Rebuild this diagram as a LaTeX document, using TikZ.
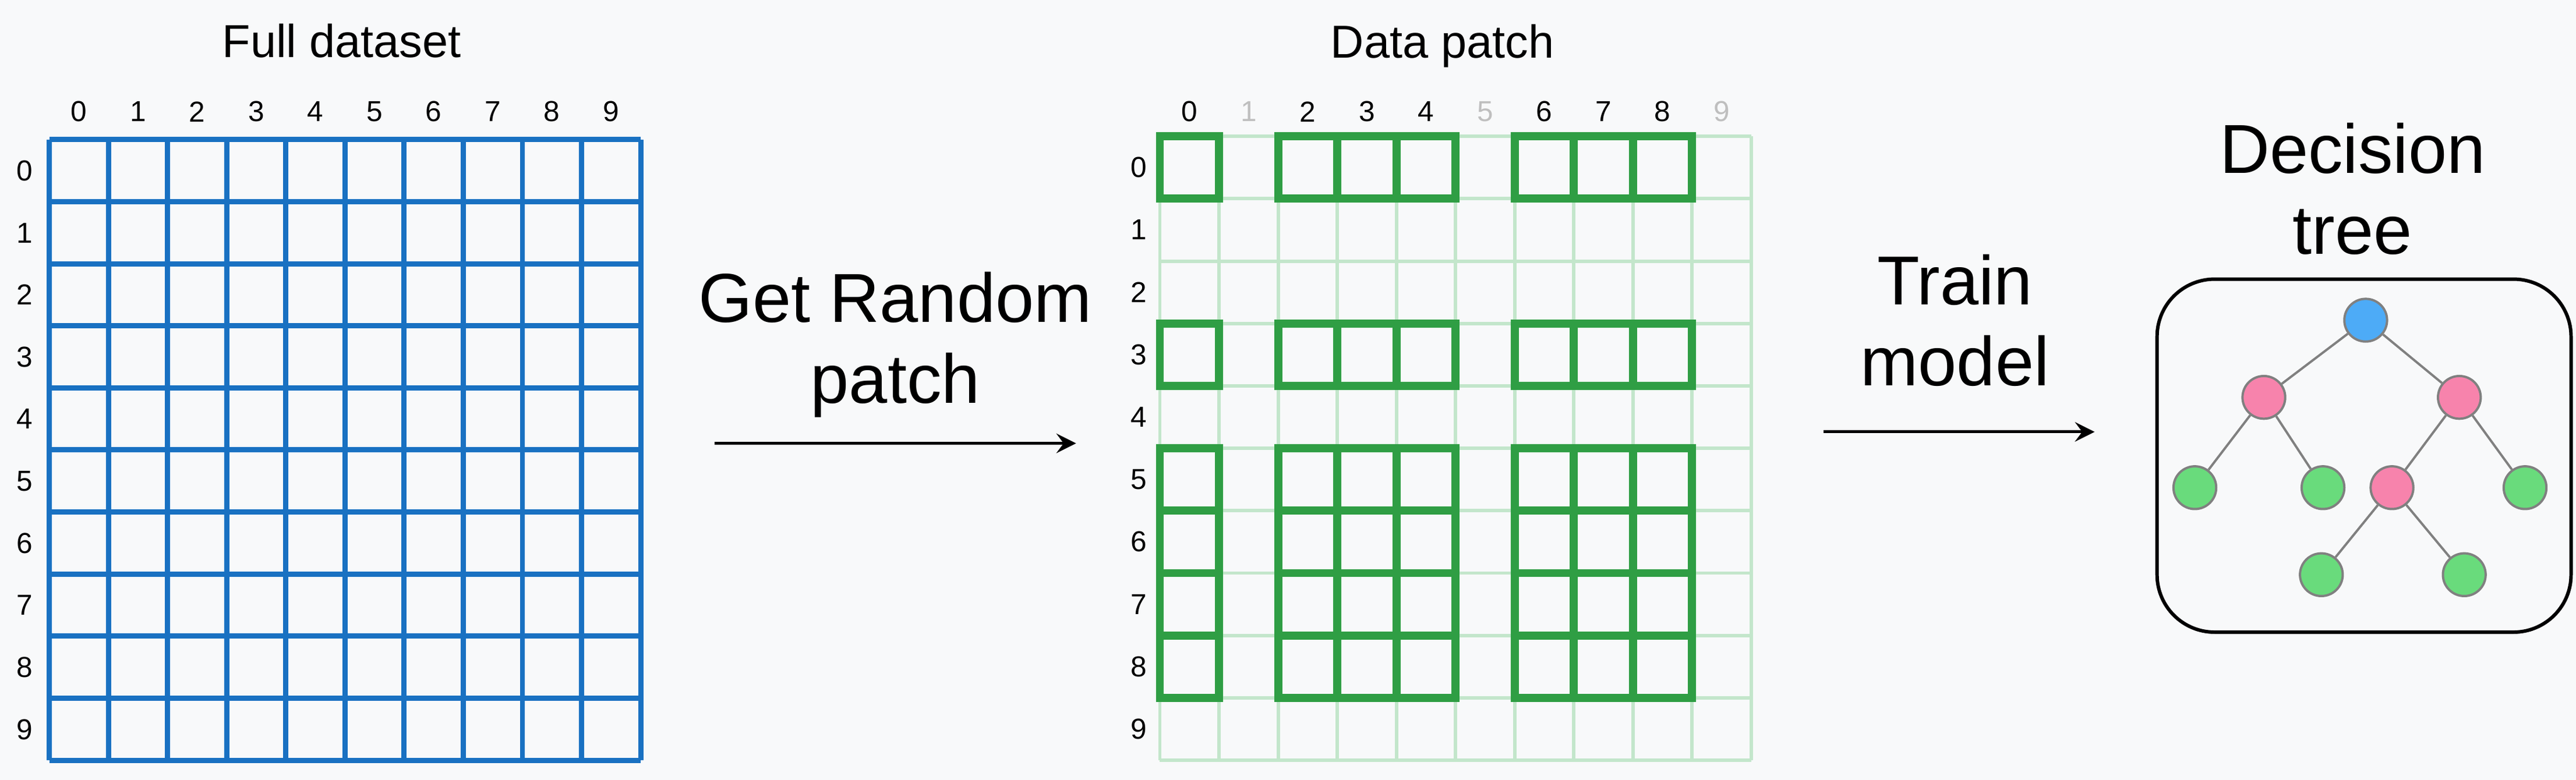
\documentclass[tikz,border=0pt]{standalone}
\usepackage{fontspec}
\setmainfont{Liberation Sans}
\definecolor{bg}{HTML}{F8F9FA}
\definecolor{gblue}{HTML}{1971C2}
\definecolor{ggreen}{HTML}{2F9E44}
\definecolor{lgreen}{HTML}{C3E6CB}
\definecolor{tblue}{HTML}{4DABF7}
\definecolor{tpink}{HTML}{F783AC}
\definecolor{tgreen}{HTML}{69DB7C}
\begin{document}
\begin{tikzpicture}[x=0.01cm,y=-0.01cm,
  lbl/.style={font=\fontsize{5}{6}\selectfont},
  ttl/.style={font=\fontsize{8}{9}\selectfont},
  big/.style={font=\fontsize{12}{14}\selectfont,align=center},
  arr/.style={-stealth,line width=0.5pt},
  tn/.style={circle,draw=gray,line width=0.4pt,minimum size=0.26cm,inner sep=0},
  te/.style={gray,line width=0.4pt}]
\fill[bg] (0,0) rectangle (1568,475);
\useasboundingbox (0,0) rectangle (1568,475);
% left grid
\node[ttl] (t1) at (208,25) {Full dataset};
\foreach \i in {0,...,9}{
  \node[lbl] (lc\i) at (48+36*\i,68) {\i};
  \node[lbl] (lr\i) at (15,104+37.8*\i) {\i};
}
\foreach \i in {0,...,10}{
  \draw[gblue,line width=0.9pt] (30+36*\i,85) -- (30+36*\i,463);
  \draw[gblue,line width=0.9pt] (30,85+37.8*\i) -- (390,85+37.8*\i);
}
% middle grid
\node[ttl] (t2) at (878,28) {Data patch};
\foreach \i in {0,...,10}{
  \draw[lgreen,line width=0.6pt] (706+36*\i,83) -- (706+36*\i,463);
  \draw[lgreen,line width=0.6pt] (706,83+38*\i) -- (1066,83+38*\i);
}
\foreach \i in {0,...,9}{
  \node[lbl] (mr\i) at (693,102+38*\i) {\i};
}
\foreach \i in {0,2,3,4,6,7,8}{\node[lbl] (mc\i) at (724+36*\i,68) {\i};}
\foreach \i in {1,5,9}{\node[lbl,text=gray!50] (mc\i) at (724+36*\i,68) {\i};}
\foreach \r in {0,3,5,6,7,8}{
  \foreach \c in {0,2,3,4,6,7,8}{
    \draw[ggreen,line width=1.4pt] (706+36*\c,83+38*\r) rectangle ++(36,38);
  }
}
% arrows
\coordinate (a1s) at (435,270); \coordinate (a1e) at (655,270);
\draw[arr] (a1s) -- (a1e);
\node[big] (g) at (545,210) {Get Random\\patch};
\coordinate (a2s) at (1110,263); \coordinate (a2e) at (1275,263);
\draw[arr] (a2s) -- (a2e);
\node[big] (tm) at (1190,195) {Train\\model};
\node[big] (dt) at (1432,115) {Decision\\tree};
\draw[rounded corners=0.35cm,line width=0.6pt] (1313,170) rectangle (1565,385);
% tree
\node[tn,fill=tblue] (r) at (1440,195) {};
\node[tn,fill=tpink] (p1) at (1378,242) {};
\node[tn,fill=tpink] (p2) at (1497,242) {};
\node[tn,fill=tgreen] (g1) at (1336,297) {};
\node[tn,fill=tgreen] (g2) at (1414,297) {};
\node[tn,fill=tpink] (p3) at (1456,297) {};
\node[tn,fill=tgreen] (g3) at (1537,297) {};
\node[tn,fill=tgreen] (g4) at (1413,350) {};
\node[tn,fill=tgreen] (g5) at (1500,350) {};
\draw[te] (r)--(p1) (r)--(p2) (p1)--(g1) (p1)--(g2) (p2)--(p3) (p2)--(g3) (p3)--(g4) (p3)--(g5);
\end{tikzpicture}
\end{document}
